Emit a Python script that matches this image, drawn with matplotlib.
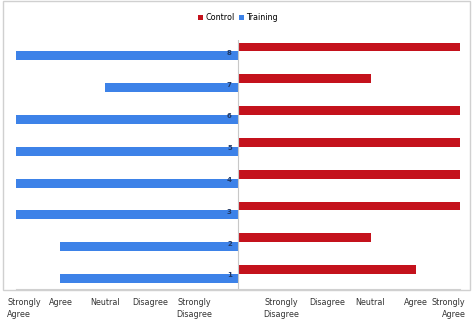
import numpy as np
import matplotlib.pyplot as plt
from matplotlib.patches import Rectangle

# items 1..8, answers on a 1-5 scale (5 = strongly agree)
items = [1, 2, 3, 4, 5, 6, 7, 8]
control = [4, 3, 5, 5, 5, 5, 3, 5]
training = [4, 4, 5, 5, 5, 5, 3, 5]
left_labels = ["Strongly\nAgree", "Agree", "Neutral", "Disagree", "Strongly\nDisagree"]
right_labels = ["Strongly\nDisagree", "Disagree", "Neutral", "Agree", "Strongly\nAgree"]

red = "#c4121c"
blue = "#3d82e8"

fig = plt.figure(figsize=(4.74, 3.23), dpi=100)
fig.patches.append(Rectangle((3/474, 33/323), 467/474, 289/323, transform=fig.transFigure,
                             fill=False, edgecolor="#d0d0d0", lw=1.0))
ax = fig.add_axes([16/474, 34/323, 444/474, 249/323])

y = np.array(items)
h = 0.28
ax.barh(y + 0.14, control, height=h, color=red, label="Control")
ax.barh(y - 0.14, [-v for v in training], height=h, color=blue, label="Training")

ax.set_xlim(-5, 5)
ax.set_ylim(0.53, 8.36)
ax.axvline(0, color="#c8c8c8", lw=0.8)
for s in ["top", "left", "right"]:
    ax.spines[s].set_visible(False)
ax.spines["bottom"].set_color("#d0d0d0")
ax.set_yticks([])
ax.set_xticks([])

for i in items:
    ax.text(-0.14, i - 0.04, str(i), ha="right", va="center", fontsize=5,
            color="#1f3864", fontweight="bold")

# scale labels under the axis
tr = ax.get_xaxis_transform()
lab_kw = dict(transform=tr, va="top", fontsize=5.8, color="#333333", linespacing=1.45)
left_pos = [-5.2, -3.98, -3.0, -1.98, -0.98]
for x, lab in zip(left_pos, left_labels):
    ax.text(x, -0.035, lab, ha="left" if x < -4.5 else "center",
            multialignment="left" if x < -4.5 else "center", **lab_kw)
right_pos = [0.98, 2.0, 2.98, 4.0, 5.12]
for x, lab in zip(right_pos, right_labels):
    ax.text(x, -0.035, lab, ha="right" if x > 4.5 else "center",
            multialignment="right" if x > 4.5 else "center", **lab_kw)

ax.legend(loc="center", bbox_to_anchor=(0.5, 1.09), ncol=2, frameon=False, fontsize=5.8,
          handlelength=0.6, handleheight=0.6, handletextpad=0.3, columnspacing=0.6)

fig.savefig("out.png", dpi=100)
